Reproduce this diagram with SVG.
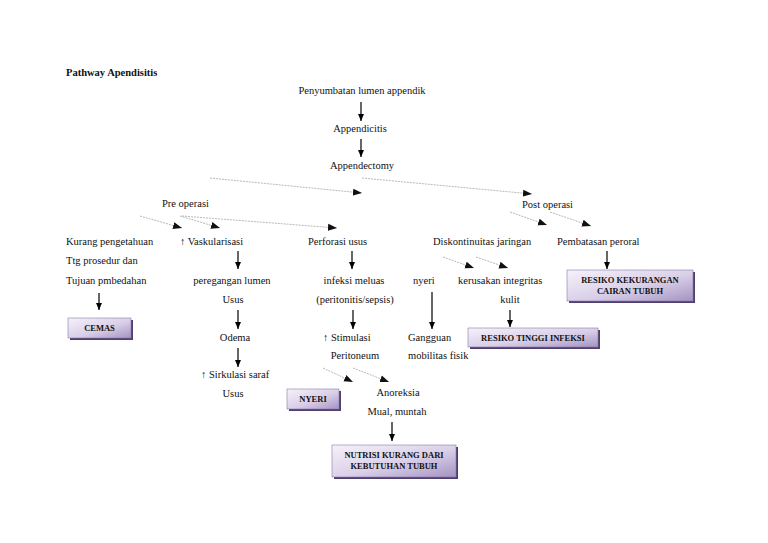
<svg xmlns="http://www.w3.org/2000/svg" width="768" height="543" viewBox="0 0 768 543">
<defs>
<linearGradient id="g" x1="0" y1="0" x2="1" y2="1">
<stop offset="0" stop-color="#f6f2fa"/>
<stop offset="0.55" stop-color="#d9cfe8"/>
<stop offset="1" stop-color="#a493c2"/>
</linearGradient>
<marker id="ah" markerWidth="8" markerHeight="8" refX="7" refY="4" orient="auto" markerUnits="userSpaceOnUse">
<path d="M0,1 L7,4 L0,7 z" fill="#000"/>
</marker>
<marker id="ad" markerWidth="10" markerHeight="8" refX="9" refY="4" orient="auto" markerUnits="userSpaceOnUse">
<path d="M0,0.5 L9,4 L0,7.5 z" fill="#111"/>
</marker>
</defs>
<style>
text{font-family:"Liberation Serif","Times New Roman",serif;font-size:10.5px;fill:#111}
.t{font-weight:bold;font-size:10.5px}
.m{text-anchor:middle}
.b{font-weight:bold;font-size:8.5px;text-anchor:middle;fill:#111}
.sh{fill:#4e3f6e}
.bx{fill:url(#g);stroke:#8a7aa8;stroke-width:0.6}
.v{stroke:#000;stroke-width:1.2;marker-end:url(#ah)}
.d{stroke:#999;stroke-width:0.7;stroke-dasharray:2 1;marker-end:url(#ad)}
</style>
<rect width="768" height="543" fill="#fff"/>
<text class="t" x="66" y="76">Pathway Apendisitis</text>

<g id="connectors">
<line class="v" x1="361" y1="102" x2="361" y2="121"/>
<line class="v" x1="361" y1="139" x2="361" y2="157"/>
<line class="d" x1="210" y1="178" x2="362" y2="193"/>
<line class="d" x1="362" y1="178" x2="532" y2="194"/>
<line class="d" x1="140" y1="216" x2="182" y2="228"/>
<line class="d" x1="180" y1="216" x2="220" y2="228"/>
<line class="d" x1="182" y1="216" x2="337" y2="228"/>
<line class="d" x1="510" y1="212" x2="547" y2="225"/>
<line class="d" x1="550" y1="212" x2="591" y2="226"/>
<line class="v" x1="99" y1="293" x2="99" y2="310"/>
<line class="v" x1="238" y1="251" x2="238" y2="269"/>
<line class="v" x1="238" y1="310" x2="238" y2="329"/>
<line class="v" x1="238" y1="348" x2="238" y2="367"/>
<line class="v" x1="352" y1="251" x2="352" y2="269"/>
<line class="v" x1="353" y1="310" x2="353" y2="329"/>
<line class="d" x1="323" y1="368" x2="353" y2="382"/>
<line class="d" x1="353" y1="368" x2="389" y2="382"/>
<line class="v" x1="392" y1="422" x2="392" y2="441"/>
<line class="d" x1="443" y1="257" x2="474" y2="268"/>
<line class="d" x1="476" y1="257" x2="508" y2="268"/>
<line class="v" x1="432" y1="292" x2="432" y2="329"/>
<line class="v" x1="510" y1="310" x2="510" y2="327"/>
<line class="v" x1="607" y1="251" x2="607" y2="269"/>
</g>

<g id="n-penyumbatan"><text class="m" x="362" y="94">Penyumbatan lumen appendik</text></g>
<g id="n-appendicitis"><text class="m" x="360" y="132">Appendicitis</text></g>
<g id="n-appendectomy"><text class="m" x="362" y="169">Appendectomy</text></g>
<g id="n-pre"><text x="162" y="207">Pre operasi</text></g>
<g id="n-post"><text x="522" y="208">Post operasi</text></g>

<g id="n-kurang">
<text x="66" y="245">Kurang pengetahuan</text>
<text x="66" y="264">Ttg prosedur dan</text>
<text x="66" y="284">Tujuan pmbedahan</text>
</g>
<g id="n-cemas">
<rect class="sh" x="70" y="320" width="63" height="20"/>
<rect class="bx" x="68" y="318" width="63" height="20"/>
<text class="b" x="99.5" y="331">CEMAS</text>
</g>

<g id="n-vask"><text x="180" y="245">↑ Vaskularisasi</text></g>
<g id="n-peregangan">
<text class="m" x="232" y="284">peregangan lumen</text>
<text class="m" x="233" y="303">Usus</text>
</g>
<g id="n-odema"><text class="m" x="235" y="341">Odema</text></g>
<g id="n-sirkulasi">
<text x="201" y="378">↑ Sirkulasi saraf</text>
<text class="m" x="233" y="397">Usus</text>
</g>

<g id="n-perforasi"><text x="308" y="245">Perforasi usus</text></g>
<g id="n-infeksi">
<text class="m" x="354" y="284">infeksi meluas</text>
<text class="m" x="355" y="303">(peritonitis/sepsis)</text>
</g>
<g id="n-stimulasi">
<text x="323" y="341">↑ Stimulasi</text>
<text class="m" x="355" y="359">Peritoneum</text>
</g>
<g id="n-nyeri-box">
<rect class="sh" x="289" y="391" width="52" height="20"/>
<rect class="bx" x="287" y="389" width="52" height="20"/>
<text class="b" x="313" y="402">NYERI</text>
</g>
<g id="n-anoreksia">
<text class="m" x="398" y="396">Anoreksia</text>
<text class="m" x="397" y="415">Mual, muntah</text>
</g>
<g id="n-nutrisi">
<rect class="sh" x="334" y="447" width="124" height="32"/>
<rect class="bx" x="332" y="445" width="124" height="32"/>
<text class="b" x="394" y="458">NUTRISI KURANG DARI</text>
<text class="b" x="394" y="469">KEBUTUHAN TUBUH</text>
</g>

<g id="n-diskontinuitas"><text x="433" y="245">Diskontinuitas jaringan</text></g>
<g id="n-nyeri"><text x="413" y="284">nyeri</text></g>
<g id="n-kerusakan">
<text x="458" y="284">kerusakan integritas</text>
<text class="m" x="510" y="303">kulit</text>
</g>
<g id="n-gangguan">
<text x="408" y="341">Gangguan</text>
<text x="408" y="359">mobilitas fisik</text>
</g>
<g id="n-resiko-infeksi">
<rect class="sh" x="470" y="330" width="130" height="19"/>
<rect class="bx" x="468" y="328" width="130" height="19"/>
<text class="b" x="533" y="341">RESIKO TINGGI INFEKSI</text>
</g>

<g id="n-pembatasan"><text x="557" y="245">Pembatasan peroral</text></g>
<g id="n-resiko-cairan">
<rect class="sh" x="569" y="272" width="126" height="31"/>
<rect class="bx" x="567" y="270" width="126" height="31"/>
<text class="b" x="630" y="283">RESIKO KEKURANGAN</text>
<text class="b" x="630" y="294">CAIRAN TUBUH</text>
</g>
</svg>
